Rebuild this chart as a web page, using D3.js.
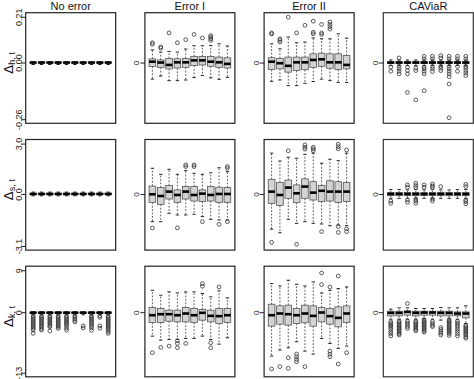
<!DOCTYPE html>
<html><head><meta charset="utf-8">
<script src="https://cdn.jsdelivr.net/npm/d3@7"></script>
<style>body{margin:0;background:#fff}svg{display:block}</style>
</head><body><svg id="c" width="474" height="379"></svg>
<script>
const columns = ["No error", "Error I", "Error II", "CAViaR"];
const rowNames = ["h, t", "s, t", "k, t"];
const yLimits = [[-0.26, 0.21], [-3.1, 3.0], [-13, 9]];
const yTickValues = [[-0.26, 0, 0.21], [-3.1, 0, 3.0], [-13, 0, 9]];
const yTickLabels = [["-0.26", "0.00", "0.21"], ["-3.1", "0.0", "3.0"], ["-13", "0", "9"]];

// box stats: [lower whisker, Q1, median, Q3, upper whisker]
const stats_h = [
  [[-0.009,-0.002,0,0.002,0.003],[-0.009,-0.002,0,0.002,0.003],[-0.009,-0.002,0,0.002,0.003],[-0.009,-0.002,0,0.002,0.003],[-0.009,-0.002,0,0.002,0.003],
   [-0.009,-0.002,0,0.002,0.003],[-0.009,-0.002,0,0.002,0.003],[-0.009,-0.002,0,0.002,0.003],[-0.009,-0.002,0,0.002,0.003],[-0.009,-0.002,0,0.002,0.003]],
  [[-0.076,-0.018,0.004,0.017,0.058],[-0.062,-0.022,0.000,0.012,0.048],[-0.083,-0.029,-0.011,0.019,0.051],[-0.083,-0.025,0.001,0.017,0.048],[-0.080,-0.022,0.001,0.019,0.062],
   [-0.069,-0.014,0.010,0.028,0.077],[-0.059,-0.011,0.010,0.028,0.077],[-0.070,-0.017,0.004,0.028,0.078],[-0.077,-0.022,0.001,0.025,0.086],[-0.068,-0.025,-0.006,0.022,0.076]],
  [[-0.086,-0.032,0.004,0.022,0.086],[-0.080,-0.029,-0.003,0.019,0.063],[-0.106,-0.044,-0.015,0.025,0.117],[-0.106,-0.037,0.001,0.025,0.091],[-0.095,-0.033,0.001,0.025,0.094],
   [-0.087,-0.022,0.012,0.040,0.113],[-0.076,-0.017,0.015,0.043,0.109],[-0.083,-0.026,0.001,0.040,0.109],[-0.091,-0.032,0.001,0.040,0.132],[-0.091,-0.029,-0.011,0.032,0.112]],
  [[-0.014,-0.004,0,0.004,0.012],[-0.014,-0.004,0,0.004,0.012],[-0.014,-0.004,0,0.004,0.012],[-0.014,-0.004,0,0.004,0.012],[-0.014,-0.004,0,0.004,0.012],
   [-0.014,-0.004,0,0.004,0.012],[-0.014,-0.004,0,0.004,0.012],[-0.014,-0.004,0,0.004,0.012],[-0.014,-0.004,0,0.004,0.012],[-0.014,-0.004,0,0.004,0.012]]
];
const out_h = [
  [[],[],[],[],[],[],[],[],[],[]],
  [[0.091,0.084],[0.072,0.066],[0.136],[0.091],[0.105],[0.129],[0.113],[0.124,0.117,0.109,0.102],[],[]],
  [[0.136,0.131],[0.109,0.102,0.094],[0.208],[0.136],[0.171],[0.190,0.139,0.132],[0.175,0.136,0.129],[0.186,0.175,0.165,0.154],[],[]],
  [[-0.021,-0.040],[0.021,-0.017,-0.029,-0.040,-0.052],[-0.021,-0.037,-0.052,-0.137],[-0.026,-0.037,-0.171],[0.029,0.017,-0.021,-0.029,-0.040,-0.052,-0.129],
   [0.029,0.017,-0.018,-0.029,-0.041],[0.032,0.021,-0.017,-0.026,-0.037],[0.029,0.017,-0.017,-0.029,-0.040,-0.052,-0.065,-0.098,-0.253],[0.029,0.017,-0.018,-0.040],[0.029,0.017,-0.017,-0.026,-0.037,-0.048,-0.060]]
];

const stats_s = [
  [[-0.11,-0.04,0,0.04,0.11],[-0.11,-0.04,0,0.04,0.11],[-0.11,-0.04,0,0.04,0.11],[-0.11,-0.04,0,0.04,0.11],[-0.11,-0.04,0,0.04,0.11],
   [-0.11,-0.04,0,0.04,0.11],[-0.11,-0.04,0,0.04,0.11],[-0.11,-0.04,0,0.04,0.11],[-0.11,-0.04,0,0.04,0.11],[-0.11,-0.04,0,0.04,0.11]],
  [[-1.65,-0.50,-0.02,0.47,1.53],[-1.65,-0.62,-0.12,0.38,1.17],[-1.15,-0.30,0.14,0.50,1.47],[-1.25,-0.50,-0.06,0.24,1.17],[-1.25,-0.30,0.14,0.44,1.39],
   [-1.21,-0.42,-0.06,0.44,1.23],[-1.35,-0.45,0.02,0.24,1.17],[-1.51,-0.42,-0.06,0.44,1.26],[-1.55,-0.50,0.00,0.40,1.56],[-1.55,-0.50,0.00,0.38,1.33]],
  [[-2.10,-0.56,0.14,0.87,2.43],[-2.31,-0.69,-0.06,0.68,1.96],[-1.51,-0.26,0.38,0.83,2.19],[-1.75,-0.52,0.04,0.54,2.13],[-1.65,-0.26,0.44,0.90,2.36],
   [-1.75,-0.36,0.08,0.73,2.43],[-1.79,-0.45,0.19,0.50,1.83],[-1.89,-0.42,0.14,0.78,2.07],[-1.85,-0.50,0.14,0.73,1.98],[-1.89,-0.45,0.14,0.69,2.43]],
  [[-0.26,-0.10,0,0.08,0.26],[-0.26,-0.10,0,0.08,0.26],[-0.26,-0.10,0,0.08,0.24],[-0.26,-0.10,0,0.08,0.26],[-0.26,-0.10,0,0.08,0.24],
   [-0.26,-0.10,0,0.08,0.26],[-0.26,-0.10,0,0.08,0.24],[-0.26,-0.10,0,0.08,0.24],[-0.26,-0.10,0,0.08,0.26],[-0.26,-0.10,0,0.08,0.26]]
];
const out_s = [
  [[],[],[],[],[],[],[],[],[],[]],
  [[-2.02],[],[],[-2.02],[1.73,1.63],[1.73,1.63],[-1.65],[],[-1.81],[1.63,1.53,-1.65]],
  [[-2.88],[],[2.57],[-3.00],[2.92,2.78,2.67],[2.78,2.69,2.58],[-2.24],[],[2.96,2.82,2.69,-1.94,-2.29],[2.62,-2.08,-2.24]],
  [[-0.42,-0.56],[],[0.54,0.40,-0.36,-0.50],[0.64,0.50,0.38,-0.30,-0.42,-0.56],[0.54,0.40],[0.59,0.47,0.38,-0.30,-0.42],[0.44],[],[],[0.57,0.44,-0.36,-0.45,-0.59]]
];

const stats_k = [
  [[-0.55,-0.2,-0.1,0,0.08],[-0.55,-0.2,-0.1,0,0.08],[-0.55,-0.2,-0.1,0,0.08],[-0.55,-0.2,-0.1,0,0.08],[-0.55,-0.2,-0.1,0,0.08],
   [-0.55,-0.2,-0.1,0,0.08],[-0.55,-0.2,-0.1,0,0.08],[-0.55,-0.2,-0.1,0,0.08],[-0.55,-0.2,-0.1,0,0.08],[-0.55,-0.2,-0.1,0,0.08]],
  [[-5.14,-2.21,-0.65,1.00,4.71],[-5.99,-2.21,-0.43,0.79,3.64],[-5.85,-1.93,-0.43,0.43,4.36],[-5.85,-2.07,-0.65,0.43,4.14],[-5.64,-2.07,-0.28,1.00,4.36],
   [-5.64,-2.21,-0.65,0.79,4.36],[-5.14,-1.71,-0.14,0.57,4.00],[-5.85,-2.07,-0.79,0.43,3.29],[-6.86,-2.43,-0.85,0.79,4.57],[-5.50,-2.21,-0.65,0.79,3.07]],
  [[-9.42,-3.00,-0.65,1.71,6.14],[-8.14,-2.57,-0.28,1.36,5.64],[-7.64,-2.78,-0.43,1.50,6.86],[-6.35,-2.43,-0.65,0.79,6.00],[-8.36,-2.28,-0.28,1.50,5.64],
   [-9.00,-3.00,-0.79,1.36,6.50],[-5.64,-2.07,-0.07,1.00,4.14],[-6.72,-2.57,-0.85,0.79,4.71],[-7.78,-3.14,-1.21,1.14,5.07],[-7.28,-2.21,-0.28,1.36,5.42]],
  [[-1.5,-0.79,-0.14,0.21,0.64],[-1.5,-0.79,-0.14,0.21,0.93],[-1.5,-0.64,0.07,0.21,0.93],[-1.5,-0.79,-0.14,0.21,0.79],[-1.4,-0.64,-0.07,0.21,0.79],
   [-1.5,-0.64,-0.07,0.21,0.79],[-1.7,-0.79,-0.14,0.21,1.00],[-1.4,-0.79,-0.14,0.21,0.93],[-1.5,-0.79,-0.29,0.07,0.93],[-2.43,-1.21,-0.29,0.07,1.36]]
];
const out_k = [
  [[-0.8,-1.1,-1.4,-1.7,-2.0,-2.3,-2.6,-2.9,-3.2,-3.5,-3.85,-4.55],
   [-0.8,-1.1,-1.4,-1.7,-2.0,-2.3,-2.6,-2.9,-3.2,-3.55,-3.85],
   [-0.8,-1.1,-1.4,-1.7,-2.0,-2.3,-2.6,-2.9,-3.15,-4.05],
   [-0.8,-1.1,-1.4,-1.7,-2.0,-2.3,-2.6,-2.9,-3.2,-3.5],
   [-0.8,-1.1,-1.4,-1.7,-2.0,-2.3,-2.6,-2.9,-3.4,-3.85],
   [-0.8,-1.1,-1.4,-1.75,-2.1],
   [-2.95,-3.4],
   [-0.8,-1.1,-1.4,-1.7,-2.0,-2.3,-2.65,-3.0,-3.35,-3.9],
   [-0.8,-1.1,-2.95,-3.45],
   [-0.8,-1.1,-1.4,-1.7,-2.0,-2.3,-2.6,-2.9,-3.2,-3.5,-3.85,-4.2,-4.55]],
  [[-8.71],[-7.57],[-7.28],[-6.14,-6.72,-7.64],[-6.72],[],[6.14,5.57],[-6.56,-7.64],[5.42],[]],
  [[-12.2],[-11.7],[-9.78,-12.06],[-9.0,-9.57,-10.13,-10.64],[-11.7],[],[8.42,5.93],[5.42,-8.36,-9.0,-9.57],[7.78,-11.14],[-8.71]],
  [[-2.07,-2.4,-2.7,-3.0,-3.3,-3.7,-4.2,-4.6,-5.1],
   [-1.9,-2.2,-2.5,-2.8,-3.1,-3.4,-3.7,-4.0,-4.3,-4.6,-4.9],
   [1.86,-1.9,-2.3,-2.7,-3.1,-3.5],
   [-1.9,-2.2,-2.5,-2.8,-3.1,-3.4,-3.7,-4.0],
   [-1.6,-1.9,-2.2,-2.5,-2.8,-3.1,-3.4,-3.7,-4.0,-4.3],
   [-2.0,-2.4,-2.8,-3.1],
   [-3.3,-3.7,-4.1,-4.5,-4.9],
   [-1.6,-1.9,-2.2,-2.5,-2.8,-3.1,-3.4,-3.7,-4.0,-4.3,-4.6,-5.0],
   [-1.9,-2.3,-2.7,-3.1,-3.6,-4.1,-4.6,-5.1],
   [-2.8,-3.1,-3.4,-3.7,-4.0,-4.3,-4.6,-4.9,-5.3,-5.6]]
];

const svg = d3.select("#c");
const panelW = 90, panelH = 110.6;
const lefts = columns.map((_, i) => 25.7 + i * 119.2);
const tops = [12.7, 139.5, 266.2];
const rows = [
  {stats: stats_h, outs: out_h},
  {stats: stats_s, outs: out_s},
  {stats: stats_k, outs: out_k}
];

// column titles
columns.forEach((t, c) => {
  svg.append("text").attr("x", lefts[c] + panelW / 2).attr("y", 10)
    .attr("text-anchor", "middle")
    .attr("font-family", "'Liberation Sans Narrow', 'Liberation Sans', Arial, sans-serif")
    .attr("font-size", 11).attr("fill", "#111").text(t);
});

rows.forEach((row, r) => {
  const [lo, hi] = yLimits[r];
  const pad = (hi - lo) * 0.04;
  const y = d3.scaleLinear().domain([lo - pad, hi + pad]).range([tops[r] + panelH, tops[r]]);

  // row label  Δ_{x, t}
  const lab = svg.append("text")
    .attr("transform", `translate(12.5,${tops[r] + panelH / 2 - 5}) rotate(-90)`)
    .attr("text-anchor", "middle")
    .attr("font-family", "'DejaVu Sans', 'Liberation Sans', sans-serif").attr("fill", "#111");
  lab.append("tspan").attr("font-size", 13).text("\u0394");
  lab.append("tspan").attr("font-size", 9).attr("dy", 2.5)
    .attr("font-family", "'Liberation Sans', Arial, sans-serif").text(rowNames[r]);

  columns.forEach((col, c) => {
    const x = d3.scaleLinear().domain([0.1, 10.9]).range([lefts[c], lefts[c] + panelW]);
    const unit = x(1) - x(0);
    const bw = 0.4 * unit, sw = 0.2 * unit;
    const g = svg.append("g");

    row.stats[c].forEach((s, i) => {
      const cx = x(i + 1);
      const [wl, q1, md, q3, wh] = s;
      const b = g.append("g");
      b.append("line").attr("x1", cx).attr("x2", cx).attr("y1", y(q3)).attr("y2", y(wh))
        .attr("stroke", "#333").attr("stroke-width", 0.8).attr("stroke-dasharray", "1.8,1.6");
      b.append("line").attr("x1", cx).attr("x2", cx).attr("y1", y(q1)).attr("y2", y(wl))
        .attr("stroke", "#333").attr("stroke-width", 0.8).attr("stroke-dasharray", "1.8,1.6");
      b.append("line").attr("x1", cx - sw).attr("x2", cx + sw).attr("y1", y(wh)).attr("y2", y(wh))
        .attr("stroke", "#222").attr("stroke-width", 1);
      b.append("line").attr("x1", cx - sw).attr("x2", cx + sw).attr("y1", y(wl)).attr("y2", y(wl))
        .attr("stroke", "#222").attr("stroke-width", 1);
      b.append("rect").attr("x", cx - bw).attr("width", 2 * bw)
        .attr("y", y(q3)).attr("height", Math.max(0.01, y(q1) - y(q3)))
        .attr("fill", "#d3d3d3").attr("stroke", "#555").attr("stroke-width", 0.8);
      b.append("line").attr("x1", cx - bw).attr("x2", cx + bw).attr("y1", y(md)).attr("y2", y(md))
        .attr("stroke", "#000").attr("stroke-width", 2.6);
      row.outs[c][i].forEach(v => {
        b.append("circle").attr("cx", cx).attr("cy", y(v)).attr("r", 1.9)
          .attr("fill", "none").attr("stroke", "#333").attr("stroke-width", 0.8);
      });
    });

    // panel border
    g.append("rect").attr("x", lefts[c]).attr("y", tops[r]).attr("width", panelW).attr("height", panelH)
      .attr("fill", "none").attr("stroke", c === 3 ? "#333" : "#222").attr("stroke-width", 1.2);

    // axis
    const tv = c === 0 ? yTickValues[r] : [0];
    const tl = c === 0 ? yTickLabels[r] : ["0"];
    const ax = d3.axisLeft(y).tickValues(tv).tickSize(4.5).tickFormat(d => tl[tv.indexOf(d)]);
    const ag = g.append("g").attr("transform", `translate(${lefts[c]},0)`).call(ax)
      .attr("font-family", "'Liberation Sans', Arial, sans-serif").attr("color", "#222");
    ag.select(".domain").remove();
    ag.selectAll(".tick line").attr("stroke-width", 1);
    ag.selectAll(".tick text").attr("x", 0).attr("dy", 0)
      .attr("text-anchor", "middle")
      .attr("font-size", c === 0 ? 9 : 8)
      .attr("fill", "#222")
      .attr("transform", c === 0 ? "translate(-4,0) rotate(-90)" : "translate(-5.5,0) rotate(-90)");
  });
});
</script></body></html>
